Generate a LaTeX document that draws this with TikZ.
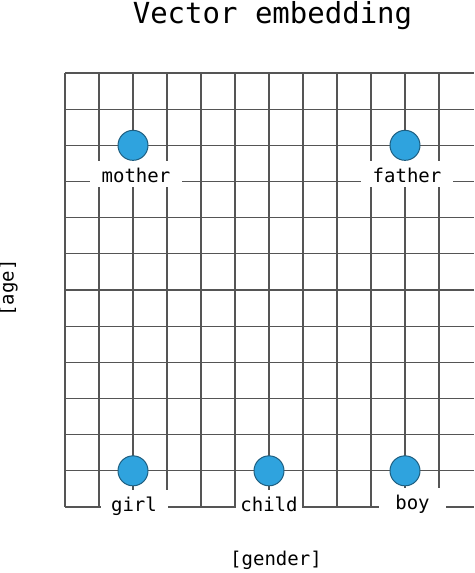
\documentclass[tikz,border=0pt]{standalone}
\usepackage{fontspec}
\setmonofont{DejaVu Sans Mono}
\definecolor{dotfill}{HTML}{2FA3DE}
\definecolor{dotline}{HTML}{1E5E80}
\definecolor{gridline}{HTML}{555555}
\begin{document}
\begin{tikzpicture}[x=1pt,y=-1pt,
  gridstroke/.style={draw=gridline,line width=1.1pt},
  dot/.style={circle,fill=dotfill,draw=dotline,line width=1pt,minimum size=30pt,inner sep=0pt},
  wordbox/.style={fill=white,inner xsep=0pt,inner ysep=0pt,text height=21pt,text depth=5pt,anchor=base,
    font=\ttfamily\fontsize{19}{19}\selectfont},
  axislabel/.style={font=\ttfamily\fontsize{19}{19}\selectfont,inner sep=0pt},
  titlelabel/.style={font=\ttfamily\fontsize{29}{29}\selectfont,inner sep=0pt,anchor=base}]
\useasboundingbox (0,0) rectangle (474,573);
% grid
\foreach \k in {0,...,12}
  \draw[gridstroke] (65,{73+36.1667*\k}) -- (474,{73+36.1667*\k});
\foreach \k in {0,...,11}
  \draw[gridstroke] ({65+34*\k},73) -- ({65+34*\k},507);
% title
\node[titlelabel] (title) at (272.5,23.5) {Vector embedding};
% dots
\node[dot] (pmother) at (133,145.33) {};
\node[dot] (pfather) at (405,145.33) {};
\node[dot] (pgirl) at (133,470.83) {};
\node[dot] (pchild) at (269,470.83) {};
\node[dot] (pboy) at (405,470.83) {};
% labels
\node[wordbox,minimum width=92pt] (lmother) at (136,182) {mother};
\node[wordbox,minimum width=92pt] (lfather) at (407,182) {father};
\node[wordbox,minimum width=67pt] (lgirl) at (134,511) {girl};
\node[wordbox,minimum width=66pt] (lchild) at (269,511) {child};
\node[wordbox,minimum width=67pt] (lboy) at (412.5,509) {boy};
% axis labels
\node[axislabel] (xlab) at (276,560) {[gender]};
\node[axislabel,rotate=90] (ylab) at (8.5,288) {[age]};
\end{tikzpicture}
\end{document}
